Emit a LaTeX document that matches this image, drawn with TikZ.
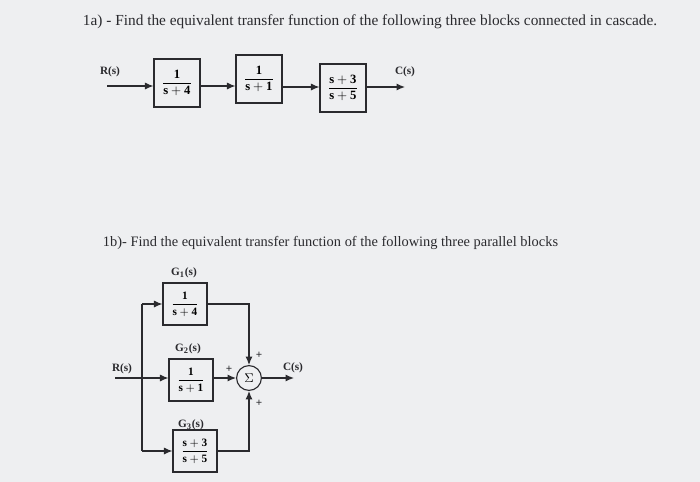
\documentclass[tikz,border=0pt]{standalone}
\usepackage{amsmath}
\usepackage{fontspec}
\setmainfont{Liberation Serif}
\usetikzlibrary{arrows.meta,positioning,calc}
\definecolor{PageGray}{HTML}{EEEFF1}
\definecolor{InkGray}{HTML}{2A2A2E}

\begin{document}
\begin{tikzpicture}[
    x=0.025cm, y=-0.025cm,
    blk/.style={rectangle, draw=InkGray, thick, minimum width=1.15cm, minimum height=1.2cm, inner sep=1pt, font=\bfseries\small, align=center},
    sblk/.style={blk, minimum width=1.1cm, minimum height=1.05cm, font=\bfseries\footnotesize},
    lbl/.style={font=\bfseries\footnotesize, text=InkGray},
    sumnode/.style={circle, draw=InkGray, thick, minimum size=0.62cm, inner sep=0pt, font=\small},
    arrow/.style={-{Latex[length=6pt,width=5pt]}, thick, draw=InkGray}
  ]
  % page
  \fill[PageGray] (0,0) rectangle (700,482);
  \useasboundingbox (0,0) rectangle (700,482);

  % titles
  \node[anchor=west, font=\fontsize{10.9}{13}\selectfont, text=InkGray] (ta) at (78,22) {1a) - Find the equivalent transfer function of the following three blocks connected in cascade.};
  \node[anchor=west, font=\fontsize{10.25}{12}\selectfont, text=InkGray] (tb) at (98,243) {1b)- Find the equivalent transfer function of the following three parallel blocks};

  % 1a) cascade
  \coordinate (rin) at (107,86);
  \node[lbl] (rlab) at (110,72) {R(s)};
  \node[blk] (b1) at (177,83) {$\mathbf{\dfrac{1}{s+4}}$};
  \node[blk] (b2) at (259,79) {$\mathbf{\dfrac{1}{s+1}}$};
  \node[blk] (b3) at (343,88) {$\mathbf{\dfrac{s+3}{s+5}}$};
  \coordinate (cout) at (405,87);
  \node[lbl] (clab) at (405,72) {C(s)};
  \draw[arrow] (rin) -- (rin -| b1.west);
  \draw[arrow] (b1.east |- 0,86) -- (b2.west |- 0,86);
  \draw[arrow] (b2.east |- 0,87) -- (b3.west |- 0,87);
  \draw[arrow] (b3.east |- cout) -- (cout);

  % 1b) parallel
  \node[sblk] (g1) at (185,304) {$\mathbf{\dfrac{1}{s+4}}$};
  \node[sblk] (g2) at (191,380) {$\mathbf{\dfrac{1}{s+1}}$};
  \node[sblk] (g3) at (195,451) {$\mathbf{\dfrac{s+3}{s+5}}$};
  \node[lbl] at (184,273) {G\textsubscript{1}(s)};
  \node[lbl] at (188,349) {G\textsubscript{2}(s)};
  \node[lbl] at (191,425) {G\textsubscript{3}(s)};
  \node[sumnode] (sum) at (249,378) {$\Sigma$};
  \coordinate (rin2) at (115,378);
  \coordinate (split) at (142,378);
  \coordinate (cout2) at (294,378);
  \node[lbl] at (122,369) {R(s)};
  \node[lbl] at (293,368) {C(s)};

  \draw[arrow] (rin2) -- (g2.west |- rin2);
  \draw[arrow] (split |- g1) -- (g1.west);
  \draw[thick, draw=InkGray] (split |- g1) -- (split |- g3);
  \draw[arrow] (split |- g3) -- (g3.west);
  \draw[arrow] (g1.east) -| (sum.north);
  \draw[arrow] (g2.east |- sum) -- (sum.west);
  \draw[arrow] (g3.east) -| (sum.south);
  \draw[arrow] (sum.east) -- (cout2);

  % signs
  \node[lbl] at (259,355) {+};
  \node[lbl] at (229,369) {+};
  \node[lbl] at (259,403) {+};
\end{tikzpicture}
\end{document}
